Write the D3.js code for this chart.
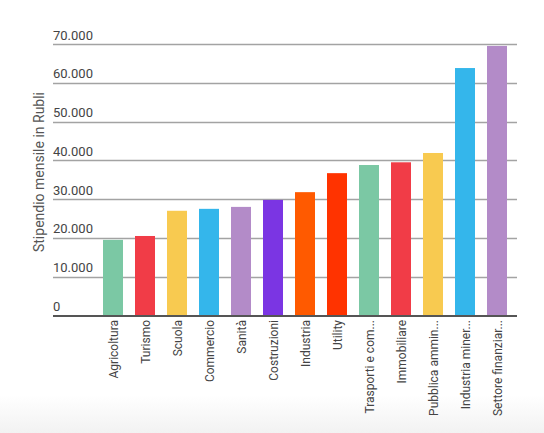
<!DOCTYPE html>
<html>
<head>
<meta charset="utf-8">
<script src="https://cdn.jsdelivr.net/npm/d3@7"></script>
<style>
html,body{margin:0;padding:0;background:#fff;}
svg{display:block;font-family:Roboto,"Noto Sans",sans-serif;}
</style>
</head>
<body>
<svg id="chart" width="544" height="433"></svg>
<script>
const categories = ["Agricoltura","Turismo","Scuola","Commercio","Sanità","Costruzioni","Industria","Utility","Trasporti e com...","Immobiliare","Pubblica ammin...","Industria miner...","Settore finanziar..."];
const values = [19500,20500,27000,27500,28000,29800,31800,36700,38800,39500,41900,63800,69500];
const colors = ["#7bc8a4","#f13c47","#f8ca50","#34b6eb","#b38bc8","#7b35e3","#ff5a00","#ff3300","#7bc8a4","#f13c47","#f8ca50","#34b6eb","#b38bc8"];
const yTicks = [0,10000,20000,30000,40000,50000,60000,70000];
const yTickLabels = ["0","10.000","20.000","30.000","40.000","50.000","60.000","70.000"];
const yTitle = "Stipendio mensile in Rubli";

const svg = d3.select("#chart");
const defs = svg.append("defs");
const grad = defs.append("linearGradient").attr("id","bg").attr("x1",0).attr("x2",0).attr("y1",0).attr("y2",1);
grad.append("stop").attr("offset","0%").attr("stop-color","#ffffff");
grad.append("stop").attr("offset","100%").attr("stop-color","#f2f2f2");
svg.append("rect").attr("x",0).attr("y",395).attr("width",544).attr("height",38).attr("fill","url(#bg)");

const left = 53, right = 517;
const y = d3.scaleLinear().domain([0,70000]).range([315.5,44]);
const x = d3.scaleBand().domain(categories).range([97,513]).paddingInner(0.375).paddingOuter(0.1875);

// gridlines
svg.append("g").selectAll("line").data(yTicks.filter(d=>d>0)).join("line")
  .attr("x1",left).attr("x2",right)
  .attr("y1",d=>Math.round(y(d))+0.5).attr("y2",d=>Math.round(y(d))+0.5)
  .attr("stroke","#a3a3a3").attr("stroke-width",1.3);

// tick labels
svg.append("g").selectAll("text").data(yTicks).join("text")
  .attr("x",left).attr("y",d=>y(d)-4.5)
  .attr("font-size",13).attr("fill","#444")
  .text((d,i)=>yTickLabels[i]);

// bars
svg.append("g").selectAll("rect").data(values).join("rect")
  .attr("x",(d,i)=>x(categories[i]))
  .attr("width",x.bandwidth())
  .attr("y",d=>y(d))
  .attr("height",d=>y(0)-y(d))
  .attr("fill",(d,i)=>colors[i]);

// baseline
svg.append("line").attr("x1",left).attr("x2",right)
  .attr("y1",y(0)+0.5).attr("y2",y(0)+0.5)
  .attr("stroke","#555").attr("stroke-width",2);

// category labels
svg.append("g").selectAll("text").data(categories).join("text")
  .attr("transform",d=>`translate(${x(d)+x.bandwidth()/2+4.5},320) rotate(-90)`)
  .attr("text-anchor","end")
  .attr("font-size",12).attr("fill","#444")
  .text(d=>d);

// y title
svg.append("text")
  .attr("transform","translate(44,172) rotate(-90)")
  .attr("text-anchor","middle")
  .attr("font-size",14).attr("fill","#555")
  .text(yTitle);
</script>
</body>
</html>
